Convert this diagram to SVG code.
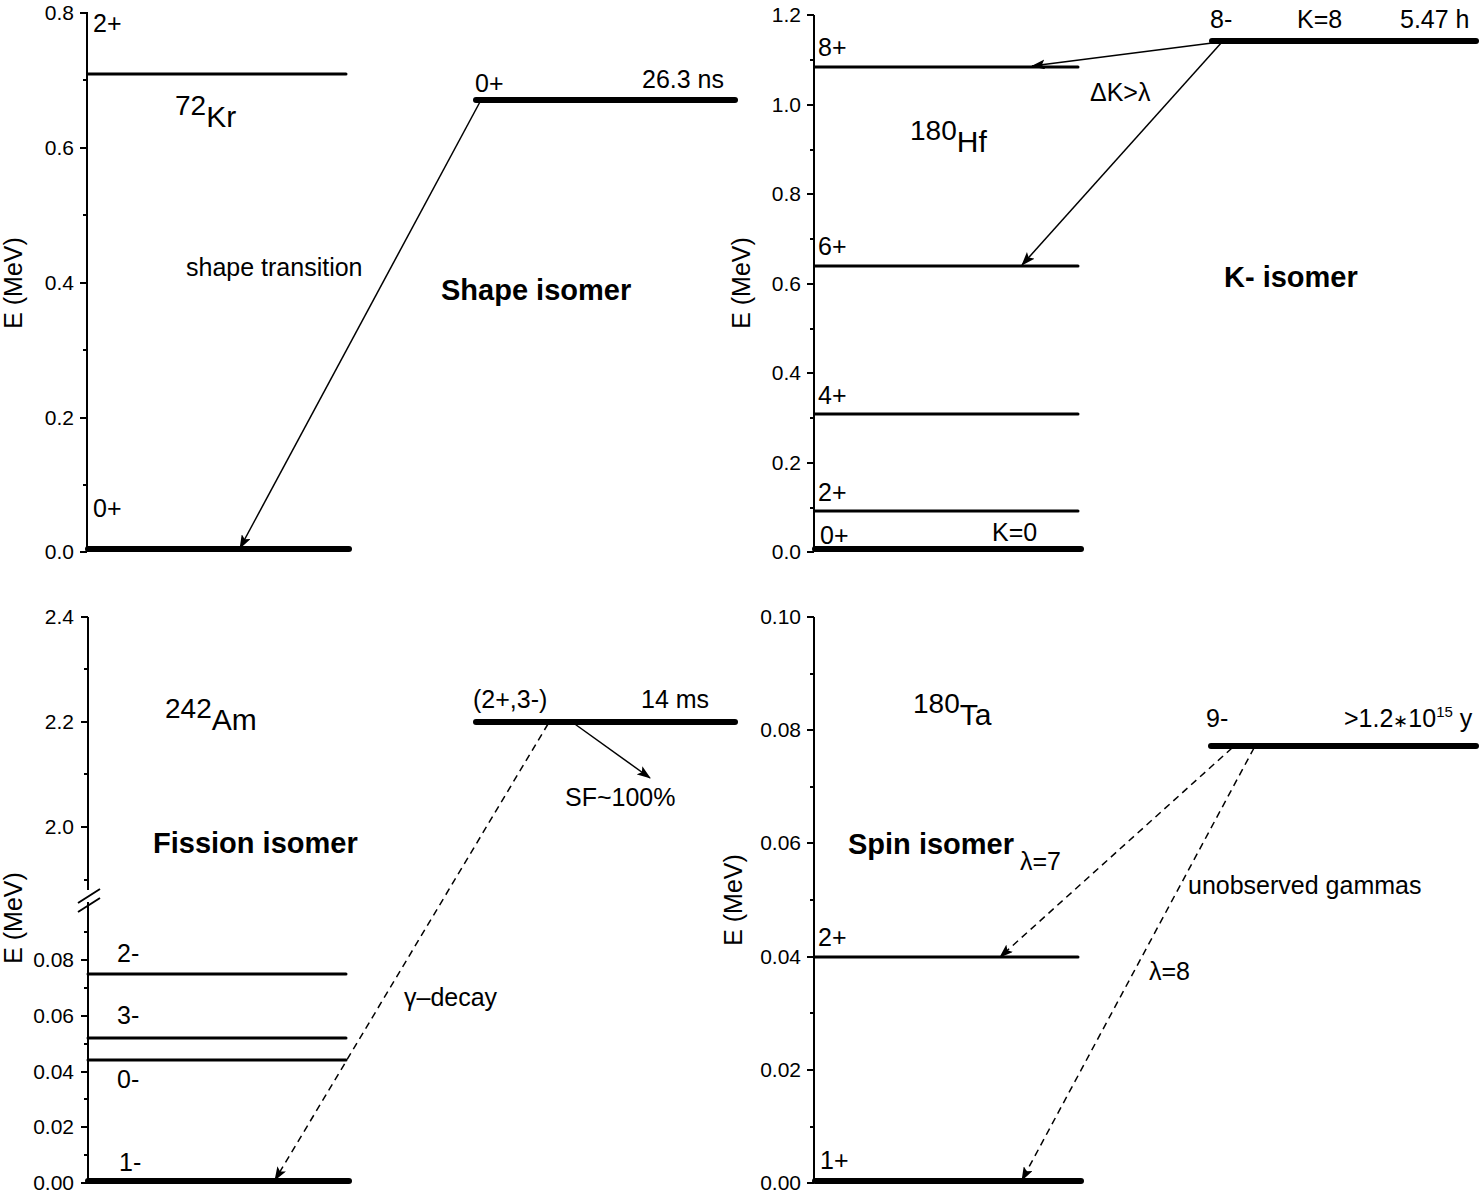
<svg xmlns="http://www.w3.org/2000/svg" width="1480" height="1192" viewBox="0 0 1480 1192">
<style>
text{font-family:"Liberation Sans",Arial,sans-serif;fill:#000}
.t{font-size:25px}
.tk{font-size:21px;text-anchor:end}
.b{font-size:29px;font-weight:bold}
.ax{stroke:#000;stroke-width:2;fill:none}
.lv{stroke:#000;stroke-width:3;stroke-linecap:round}
.gl{stroke:#000;stroke-width:6;stroke-linecap:round}
.ar{stroke:#000;stroke-width:1.5;fill:none;marker-end:url(#ah)}
.da{stroke:#000;stroke-width:1.5;fill:none;stroke-dasharray:7,5;marker-end:url(#ah)}
</style>
<defs>
<marker id="ah" markerWidth="14" markerHeight="10" refX="13" refY="5" orient="auto" markerUnits="userSpaceOnUse">
<path d="M0,0 L14,5 L0,10 L3,5 Z" fill="#000"/>
</marker>
</defs>
<g id="axes">
<path class="ax" d="M87,38V552 M80,13H87V40 M80,148H87 M80,283H87 M80,418H87 M80,552H87 M83,80H87 M83,215H87 M83,350H87 M83,485H87"/>
<text class="tk" x="74" y="20">0.8</text><text class="tk" x="74" y="155">0.6</text><text class="tk" x="74" y="290">0.4</text><text class="tk" x="74" y="425">0.2</text><text class="tk" x="74" y="559">0.0</text>
<text class="t" transform="translate(22,283) rotate(-90)" text-anchor="middle">E (MeV)</text>

<path class="ax" d="M814,15V552 M807,15H814 M807,105H814 M807,194H814 M807,284H814 M807,373H814 M807,463H814 M807,552H814 M810,60H814 M810,150H814 M810,239H814 M810,329H814 M810,418H814 M810,508H814"/>
<text class="tk" x="801" y="22">1.2</text><text class="tk" x="801" y="112">1.0</text><text class="tk" x="801" y="201">0.8</text><text class="tk" x="801" y="291">0.6</text><text class="tk" x="801" y="380">0.4</text><text class="tk" x="801" y="470">0.2</text><text class="tk" x="801" y="559">0.0</text>
<text class="t" transform="translate(750,283) rotate(-90)" text-anchor="middle">E (MeV)</text>

<path class="ax" d="M88,617V890 M88,902V1183 M81,617H88 M81,722H88 M81,827H88 M84,669H88 M84,774H88 M84,880H88 M81,960H88 M81,1016H88 M81,1072H88 M81,1127H88 M81,1183H88 M84,932H88 M84,988H88 M84,1044H88 M84,1099H88 M84,1155H88 M78,903L100,889 M78,912L100,898"/>
<text class="tk" x="74" y="624">2.4</text><text class="tk" x="74" y="729">2.2</text><text class="tk" x="74" y="834">2.0</text><text class="tk" x="74" y="967">0.08</text><text class="tk" x="74" y="1023">0.06</text><text class="tk" x="74" y="1079">0.04</text><text class="tk" x="74" y="1134">0.02</text><text class="tk" x="74" y="1190">0.00</text>
<text class="t" transform="translate(22,918) rotate(-90)" text-anchor="middle">E (MeV)</text>

<path class="ax" d="M814,617V1183 M807,617H814 M807,730H814 M807,843H814 M807,957H814 M807,1070H814 M807,1183H814 M810,674H814 M810,787H814 M810,900H814 M810,1013H814 M810,1127H814"/>
<text class="tk" x="801" y="624">0.10</text><text class="tk" x="801" y="737">0.08</text><text class="tk" x="801" y="850">0.06</text><text class="tk" x="801" y="964">0.04</text><text class="tk" x="801" y="1077">0.02</text><text class="tk" x="801" y="1190">0.00</text>
<text class="t" transform="translate(742,900) rotate(-90)" text-anchor="middle">E (MeV)</text>
</g>

<g id="kr">
<line class="lv" x1="88" y1="74" x2="346" y2="74"/>
<line class="gl" x1="88" y1="549" x2="349" y2="549"/>
<line class="gl" x1="476" y1="100" x2="735" y2="100"/>
<text class="t" x="93" y="32">2+</text>
<text class="t" x="93" y="517">0+</text>
<text class="t" x="475" y="92">0+</text>
<text class="t" x="642" y="88">26.3 ns</text>
<text x="175" y="115" font-size="28">72<tspan font-size="30" dy="12">Kr</tspan></text>
<text class="t" x="186" y="276">shape transition</text>
<text class="b" x="441" y="300">Shape isomer</text>
</g>

<g id="hf">
<line class="lv" x1="815" y1="67" x2="1078" y2="67"/>
<line class="lv" x1="815" y1="266" x2="1078" y2="266"/>
<line class="lv" x1="815" y1="414" x2="1078" y2="414"/>
<line class="lv" x1="815" y1="511" x2="1078" y2="511"/>
<line class="gl" x1="815" y1="549" x2="1081" y2="549"/>
<line class="gl" x1="1212" y1="41" x2="1476" y2="41"/>
<text class="t" x="818" y="56">8+</text><text class="t" x="818" y="255">6+</text><text class="t" x="818" y="404">4+</text><text class="t" x="818" y="501">2+</text><text class="t" x="820" y="544">0+</text>
<text class="t" x="992" y="541">K=0</text>
<text class="t" x="1210" y="28">8-</text><text class="t" x="1297" y="28">K=8</text><text class="t" x="1400" y="28">5.47 h</text>
<text class="t" x="1090" y="101">ΔK&gt;λ</text>
<text x="910" y="140" font-size="28">180<tspan font-size="30" dy="12">Hf</tspan></text>
<text class="b" x="1224" y="287">K- isomer</text>
</g>

<g id="am">
<line class="lv" x1="88" y1="974" x2="346" y2="974"/>
<line class="lv" x1="88" y1="1038" x2="346" y2="1038"/>
<line class="lv" x1="88" y1="1060" x2="346" y2="1060"/>
<line class="gl" x1="88" y1="1181" x2="349" y2="1181"/>
<line class="gl" x1="476" y1="722" x2="735" y2="722"/>
<text class="t" x="117" y="962">2-</text><text class="t" x="117" y="1024">3-</text><text class="t" x="117" y="1088">0-</text><text class="t" x="119" y="1171">1-</text>
<text class="t" x="473" y="708">(2+,3-)</text><text class="t" x="641" y="708">14 ms</text>
<text class="t" x="565" y="806">SF~100%</text>
<text class="t" x="404" y="1006">γ–decay</text>
<text x="165" y="718" font-size="28">242<tspan font-size="30" dy="12">Am</tspan></text>
<text class="b" x="153" y="853">Fission isomer</text>
</g>

<g id="ta">
<line class="lv" x1="815" y1="957" x2="1078" y2="957"/>
<line class="gl" x1="815" y1="1181" x2="1081" y2="1181"/>
<line class="gl" x1="1211" y1="746" x2="1476" y2="746"/>
<text class="t" x="818" y="946">2+</text><text class="t" x="820" y="1169">1+</text>
<text class="t" x="1206" y="727">9-</text>
<text class="t" x="1344" y="727">&gt;1.2<tspan font-size="18">∗</tspan>10<tspan font-size="15" dy="-10">15</tspan><tspan dy="10"> y</tspan></text>
<text class="t" x="1020" y="870">λ=7</text>
<text class="t" x="1188" y="894">unobserved gammas</text>
<text class="t" x="1149" y="980">λ=8</text>
<text x="913" y="713" font-size="28">180<tspan font-size="30" dy="12">Ta</tspan></text>
<text class="b" x="848" y="854">Spin isomer</text>
</g>

<g id="connectors">
<line class="ar" x1="481" y1="100" x2="240" y2="548"/>
<line class="ar" x1="1220" y1="42" x2="1032" y2="66"/>
<line class="ar" x1="1222" y1="42" x2="1022" y2="265"/>
<line class="ar" x1="572" y1="722" x2="650" y2="778"/>
<line class="da" x1="548" y1="724" x2="275" y2="1180"/>
<line class="da" x1="1232" y1="748" x2="1000" y2="957"/>
<line class="da" x1="1254" y1="748" x2="1022" y2="1180"/>
</g>
</svg>
